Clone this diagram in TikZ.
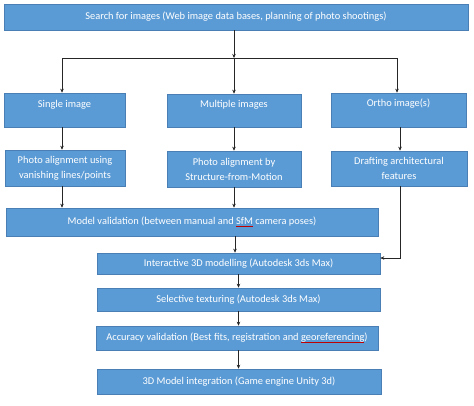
\documentclass[tikz,border=0pt]{standalone}
\usepackage{fontspec}
\setmainfont{Carlito}
\usetikzlibrary{arrows.meta}
\definecolor{boxfill}{HTML}{5B9BD5}
\definecolor{boxline}{HTML}{4A7FB5}
\newcommand{\redul}[1]{\setbox0\hbox{#1}\rlap{\color{red!75!black}\rule[-1.8pt]{\wd0}{0.5pt}}\box0\relax}
\tikzset{
  box/.style={draw=boxline, line width=0.6pt, fill=boxfill, text=white, inner sep=0pt,
    font=\fontsize{10.4}{15}\selectfont, align=center},
  lbl/.style={text=white, font=\fontsize{10.4}{15}\selectfont, inner sep=0pt},
  conn/.style={draw=black!85, line width=0.6pt},
  arr/.style={conn, -{Stealth[length=4pt,width=3.5pt]}}
}
\begin{document}
\begin{tikzpicture}[x=1pt,y=-1pt]
\useasboundingbox (0,0) rectangle (474,405);
\node[box, minimum width=464, minimum height=26] (top) at (236,17) {Search for images (Web image data bases, planning of photo shootings)};
\node[box, minimum width=121, minimum height=34, label={[lbl,anchor=center,yshift=-12pt]north:Single image}] (single) at (64.5,110) {};
\node[box, minimum width=134, minimum height=33, label={[lbl,anchor=center,yshift=-11pt]north:Multiple images}] (multi) at (234,110.5) {};
\node[box, minimum width=135, minimum height=34, label={[lbl,anchor=center,yshift=-11pt]north:Ortho image(s)}] (ortho) at (398.5,110) {};
\node[box, minimum width=120, minimum height=36] (pa1) at (65,168) {Photo alignment using\\vanishing lines/points};
\node[box, minimum width=134, minimum height=36] (pa2) at (234,169) {Photo alignment by\\Structure-from-Motion};
\node[box, minimum width=136, minimum height=35] (draft) at (399,168.5) {Drafting architectural\\features};
\node[box, minimum width=372, minimum height=28] (mv) at (192,222) {Model validation (between manual and \redul{SfM} camera poses)};
\node[box, minimum width=283, minimum height=21] (int) at (238.5,263.5) {Interactive 3D modelling (Autodesk 3ds Max)};
\node[box, minimum width=283, minimum height=23] (sel) at (238.5,299.5) {Selective texturing (Autodesk 3ds Max)};
\node[box, minimum width=282, minimum height=24] (acc) at (237,338) {Accuracy validation (Best fits, registration and \redul{georeferencing})};
\node[box, minimum width=284, minimum height=25] (fin) at (239,381.5) {3D Model integration (Game engine Unity 3d)};
\coordinate (split) at (234,58);
\coordinate (bl) at (62,58);
\coordinate (br) at (397,58);
\coordinate (corner) at (400,258);
\draw[arr] (top.south -| split) -- (split);
\draw[conn] (bl) -- (br);
\draw[arr] (bl) -- (bl |- single.north);
\draw[arr] (split) -- (multi.north);
\draw[arr] (br) -- (br |- ortho.north);
\draw[arr] (single.south -| bl) -- (pa1.north -| bl);
\draw[arr] (multi.south) -- (pa2.north);
\draw[arr] (ortho.south -| corner) -- (draft.north -| corner);
\draw[arr] (pa1.south -| bl) -- (mv.north -| bl);
\draw[arr] (pa2.south) -- (mv.north -| pa2.south);
\draw[arr] (draft.south -| corner) -- (corner) -- (int.east |- corner);
\draw[arr] (mv.south -| 235,0) -- (int.north -| 235,0);
\draw[arr] (int.south) -- (sel.north);
\draw[arr] (sel.south) -- (acc.north -| sel.south);
\draw[arr] (acc.south -| sel.south) -- (fin.north -| sel.south);
\end{tikzpicture}
\end{document}
